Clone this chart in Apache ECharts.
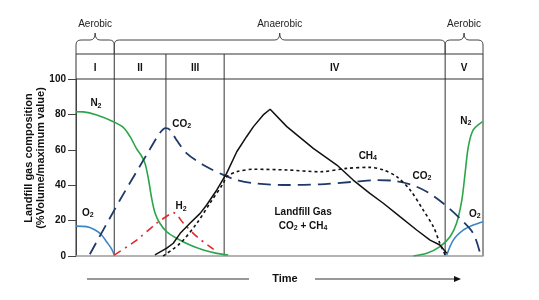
<!DOCTYPE html>
<html>
<head>
<meta charset="utf-8">
<script src="https://cdn.jsdelivr.net/npm/echarts@6/dist/echarts.min.js"></script>
<style>
  html, body { margin: 0; padding: 0; background: #fff; }
  #chart { width: 539px; height: 300px; }
</style>
</head>
<body>
<div id="chart"></div>
<script>
// axis + phases
const yTicks = [0, 20, 40, 60, 80, 100];
const phaseEdges = [0, 9.4, 22.1, 36.4, 90.7, 100];
const phaseNames = ['I', 'II', 'III', 'IV', 'V'];
// [label, first edge index, last edge index]
const conditions = [['Aerobic', 0, 1], ['Anaerobic', 1, 4], ['Aerobic', 4, 5]];

// gas curves, [time, % of max]
const n2Early = [[0, 81.5], [1.8, 81.4], [5.1, 79.7], [9.2, 75.9], [11.6, 72.7], [13.3, 67.4], [14.9, 60.5],
  [16.1, 56.5], [17.0, 52.0], [17.8, 43.5], [18.6, 32.5], [19.4, 24.5], [20.6, 18.5], [22.3, 13.7],
  [24.7, 10.0], [28.0, 6.2], [31.3, 3.4], [34.6, 1.5], [37.4, 0.6]];
const n2Late = [[82.9, 0], [86.2, 1.5], [89.4, 5.3], [91.9, 10.9], [93.5, 18.5], [94.8, 31.6], [95.6, 46.7],
  [96.4, 61.8], [97.6, 71.2], [99.9, 75.9]];
const o2Early = [[0, 16.9], [2.6, 16.6], [4.7, 14.7], [6.3, 11.9], [7.5, 8.1], [8.8, 3.8], [9.4, 0.5]];
const o2Late = [[91.1, 0.6], [92.7, 9.0], [95.2, 14.7], [97.6, 17.5], [100, 19.4]];
const co2 = [[3.4, 1.0], [10.8, 31.6], [18.2, 60.5], [20.6, 69.5], [22.0, 72.3], [23.1, 71.3], [24.7, 65.5],
  [27.2, 58.0], [31.3, 51.4], [36.2, 45.8], [39.5, 42.9], [43.6, 41.1],
  [51.8, 40.1], [60.0, 40.5], [68.6, 42.0], [73.9, 42.9], [78.0, 42.5], [82.1, 40.5], [86.2, 36.3],
  [90.2, 29.8], [94.3, 21.3], [97.6, 12.8], [99.3, 1.5]];
const h2 = [[9.4, 0.5], [14.9, 9.0], [19.8, 18.5], [23.1, 23.7], [23.9, 24.5], [26.4, 18.5], [29.7, 10.9],
  [32.9, 5.3], [34.8, 2.0]];
const landfillGas = [[19.4, 0.6], [22.3, 4.4], [23.9, 7.2], [25.6, 12.8], [28.0, 18.5], [30.5, 24.1],
  [32.1, 28.8], [34.6, 37.3], [37.0, 46.7], [39.5, 58.9], [41.9, 67.4], [43.6, 73.1], [46.0, 79.7],
  [47.7, 82.9], [51.8, 73.1], [58.3, 60.8], [64.1, 51.4], [68.1, 42.9], [72.2, 35.4], [75.5, 29.8],
  [79.6, 22.2], [83.7, 14.7], [87.0, 9.0], [89.4, 6.2], [91.1, 1.5]];
const ch4 = [[21.4, 0], [25.6, 7.2], [29.7, 18.5], [32.9, 29.8], [36.2, 41.1], [37.0, 44.8], [39.5, 47.6],
  [43.6, 49.0], [51.8, 48.6], [60.0, 47.6], [66.5, 49.5], [72.2, 50.1], [75.5, 48.6], [78.8, 44.8],
  [82.1, 37.3], [85.3, 26.0], [87.8, 16.6], [89.4, 7.2], [90.7, 0.6]];

// curve labels: [text, subscript, time, %]
const gasLabels = [['N', '2', 4.9, 86.4], ['O', '2', 2.9, 24.3], ['CO', '2', 26.0, 74.6], ['H', '2', 25.8, 28.2],
  ['CH', '4', 71.7, 56.5], ['CO', '2', 85.0, 45.2], ['N', '2', 95.8, 76.3], ['O', '2', 98.0, 23.7]];

const FONT = '"Liberation Sans", Arial, sans-serif';
const GREEN = '#2ba54b', BLUE = '#3a86c8', NAVY = '#1f3a68', RED = '#e2282c', BLACK = '#111';

function line(name, data, color, type, width, smooth) {
  return {
    name, type: 'line', data, symbol: 'none', smooth: smooth,
    lineStyle: { color, type, width }, silent: true, z: 3
  };
}

const chart = echarts.init(document.getElementById('chart'));
chart.setOption({
  animation: false,
  grid: { left: 76, right: 56, top: 79, bottom: 44 },
  xAxis: {
    type: 'value', min: 0, max: 100,
    axisLine: { show: true, lineStyle: { color: '#9a9a9a', width: 1.5 } },
    axisTick: { show: false }, axisLabel: { show: false }, splitLine: { show: false }
  },
  yAxis: {
    type: 'value', min: yTicks[0], max: yTicks[yTicks.length - 1], interval: 20,
    axisLine: { show: true, lineStyle: { color: '#444' } },
    axisTick: { show: true, length: 8, lineStyle: { color: '#444' } },
    axisLabel: { margin: 10, color: '#111', fontFamily: FONT, fontWeight: 'bold', fontSize: 10 },
    splitLine: { show: false }
  },
  series: [
    line('N2', n2Early, GREEN, 'solid', 1.6, 0.3),
    line('N2 ', n2Late, GREEN, 'solid', 1.6, 0.3),
    line('O2', o2Early, BLUE, 'solid', 1.6, 0.3),
    line('O2 ', o2Late, BLUE, 'solid', 1.6, 0.3),
    line('CO2', co2, NAVY, [13, 7], 1.8, 0.3),
    line('H2', h2, RED, [8, 5, 2, 5], 1.6, 0.3),
    line('Landfill gas', landfillGas, BLACK, 'solid', 1.5, false),
    line('CH4', ch4, BLACK, [3, 3], 1.6, 0.3)
  ]
});

// header box, braces and annotations, placed from the axes
const px = (x, y) => chart.convertToPixel({ gridIndex: 0 }, [x, y]);
const [x0, yBase] = px(0, 0);
const yTop100 = px(0, 100)[1];
const boxTop = yTop100 - 25;
const xEdges = phaseEdges.map(v => px(v, 0)[0]);
const xRight = xEdges[xEdges.length - 1];
const stroke = { stroke: '#333', lineWidth: 1 };
const braceStyle = { stroke: '#444', lineWidth: 1, fill: null };
const rich = {
  b: { fontFamily: FONT, fontWeight: 'bold', fontSize: 10, lineHeight: 12 },
  s: { fontFamily: FONT, fontWeight: 'bold', fontSize: 7, lineHeight: 12, verticalAlign: 'bottom', padding: [4, 0, 0, 0] }
};
const g = [];
const seg = (x1, y1, x2, y2, style) => g.push({ type: 'line', shape: { x1, y1, x2, y2 }, style: style || stroke });
const curve = (x1, y1, cpx1, cpy1, x2, y2) => g.push({ type: 'bezierCurve', shape: { x1, y1, x2, y2, cpx1, cpy1 }, style: braceStyle });

seg(x0, boxTop, xRight, boxTop);
seg(x0, yTop100, xRight, yTop100);
xEdges.forEach(x => seg(x, boxTop, x, yBase));
phaseNames.forEach((n, i) => g.push({
  type: 'text', x: (xEdges[i] + xEdges[i + 1]) / 2, y: (boxTop + yTop100) / 2 + 2,
  style: { text: n, font: 'bold 10px ' + FONT, fill: '#111', align: 'center', verticalAlign: 'middle' }
}));
conditions.forEach(([label, a, b]) => {
  const x1 = xEdges[a], x2 = xEdges[b], xm = (x1 + x2) / 2;
  const yb = boxTop, yh = boxTop - 14, yp = boxTop - 21;
  seg(x1, yb, x1, yh + 5, braceStyle);
  curve(x1, yh + 5, x1, yh, x1 + 5, yh);
  seg(x1 + 5, yh, xm - 5, yh, braceStyle);
  curve(xm - 5, yh, xm, yh, xm, yp);
  curve(xm, yp, xm, yh, xm + 5, yh);
  seg(xm + 5, yh, x2 - 5, yh, braceStyle);
  curve(x2 - 5, yh, x2, yh, x2, yh + 5);
  seg(x2, yh + 5, x2, yb, braceStyle);
  g.push({
    type: 'text', x: xm, y: yp - 9,
    style: { text: label, font: '10px ' + FONT, fill: '#222', align: 'center', verticalAlign: 'middle' }
  });
});

gasLabels.forEach(([t, s, x, y]) => {
  const [lx, ly] = px(x, y);
  g.push({ type: 'text', x: lx, y: ly, z: 10,
    style: { text: `{b|${t}}{s|${s}}`, rich, fill: '#111', align: 'center', verticalAlign: 'middle' } });
});
const [gx, gy] = px(55.8, 24.9);
g.push({ type: 'text', x: gx, y: gy, z: 10,
  style: { text: '{b|Landfill Gas}', rich, fill: '#111', align: 'center', verticalAlign: 'middle' } });
g.push({ type: 'text', x: gx, y: gy + 14, z: 10,
  style: { text: '{b|CO}{s|2}{b| + CH}{s|4}', rich, fill: '#111', align: 'center', verticalAlign: 'middle' } });

// y axis title
g.push({ type: 'text', x: 35, y: 158, rotation: Math.PI / 2,
  style: { text: 'Landfill gas composition\n(%Volume/maximum value)', font: 'bold 11px ' + FONT,
    lineHeight: 12, fill: '#111', align: 'center', verticalAlign: 'middle' } });

// time arrow
const ty = yBase + 23;
seg(87, ty, 249, ty);
g.push({ type: 'text', x: 285, y: ty, style: { text: 'Time', font: 'bold 11px ' + FONT, fill: '#111', align: 'center', verticalAlign: 'middle' } });
seg(315, ty, 455, ty);
g.push({ type: 'polygon', shape: { points: [[461, ty], [454, ty - 3], [454, ty + 3]] }, style: { fill: '#111' } });

chart.setOption({ graphic: g });
</script>
</body>
</html>
